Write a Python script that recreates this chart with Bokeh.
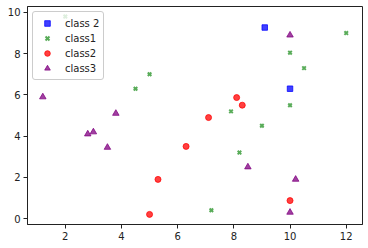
from bokeh.plotting import figure
from bokeh.models import Range1d, Legend, LegendItem, FixedTicker
from bokeh.embed import file_html
from bokeh.resources import INLINE

# class 2 (blue squares)
c2b_x = [9.1, 10.0]
c2b_y = [9.27, 6.3]
# class1 (green x)
c1_x = [2.0, 4.5, 5.0, 12.0, 10.0, 10.5, 10.0, 7.9, 9.0, 8.2, 7.2]
c1_y = [9.8, 6.3, 7.0, 9.0, 8.05, 7.3, 5.5, 5.2, 4.5, 3.2, 0.4]
# class2 (red circles)
c2_x = [8.1, 8.3, 7.1, 5.3, 5.0, 6.3, 10.0]
c2_y = [5.87, 5.5, 4.9, 1.9, 0.2, 3.5, 0.87]
# class3 (purple triangles)
c3_x = [1.2, 3.8, 10.0, 2.8, 3.0, 3.5, 8.5, 10.2, 10.0]
c3_y = [5.9, 5.1, 8.9, 4.1, 4.2, 3.45, 2.5, 1.9, 0.3]

x_ticks = [2, 4, 6, 8, 10, 12]
y_ticks = [0, 2, 4, 6, 8, 10]

p = figure(width=368, height=248, output_backend="svg", toolbar_location=None,
           x_range=Range1d(0.655, 12.58), y_range=Range1d(-0.29, 10.29),
           min_border_left=27, min_border_right=6, min_border_top=6, min_border_bottom=24)
p.xgrid.visible = False
p.ygrid.visible = False
p.outline_line_color = "#222222"
p.outline_line_width = 1
p.background_fill_color = "white"
p.border_fill_color = "white"

for ax, ticks in ((p.xaxis, x_ticks), (p.yaxis, y_ticks)):
    ax.ticker = FixedTicker(ticks=ticks)
    ax.minor_tick_line_color = None
    ax.major_tick_out = 4
    ax.major_tick_in = 0
    ax.axis_line_color = "#222222"
    ax.major_tick_line_color = "#222222"
    ax.major_label_text_font = "DejaVu Sans"
    ax.major_label_text_font_size = "10px"
    ax.major_label_text_color = "#222222"
    ax.major_label_standoff = 3

r1 = p.scatter(c2b_x, c2b_y, marker="square", size=5.5, fill_color="blue", line_color="blue",
               fill_alpha=0.75, line_alpha=0.75)
r2 = p.scatter(c1_x, c1_y, marker="x", size=5, line_color="green", line_width=2, line_alpha=0.65)
r3 = p.scatter(c2_x, c2_y, marker="circle", size=6, fill_color="red", line_color="red",
               fill_alpha=0.75, line_alpha=0.75)
r4 = p.scatter(c3_x, c3_y, marker="triangle", size=6.5, fill_color="purple", line_color="purple",
               fill_alpha=0.75, line_alpha=0.75)

legend = Legend(items=[LegendItem(label="class 2", renderers=[r1]),
                       LegendItem(label="class1", renderers=[r2]),
                       LegendItem(label="class2", renderers=[r3]),
                       LegendItem(label="class3", renderers=[r4])],
                location="top_left")
legend.margin = 5
legend.padding = 4
legend.spacing = 1
legend.glyph_height = 14
legend.glyph_width = 20
legend.label_height = 14
legend.label_standoff = 8
legend.label_text_font = "DejaVu Sans"
legend.label_text_font_size = "10px"
legend.label_text_color = "#222222"
legend.border_line_color = "#cccccc"
legend.border_line_alpha = 1
legend.background_fill_alpha = 0.8
legend.border_radius = 3
p.add_layout(legend)

open("out.html", "w").write(file_html(p, INLINE))
